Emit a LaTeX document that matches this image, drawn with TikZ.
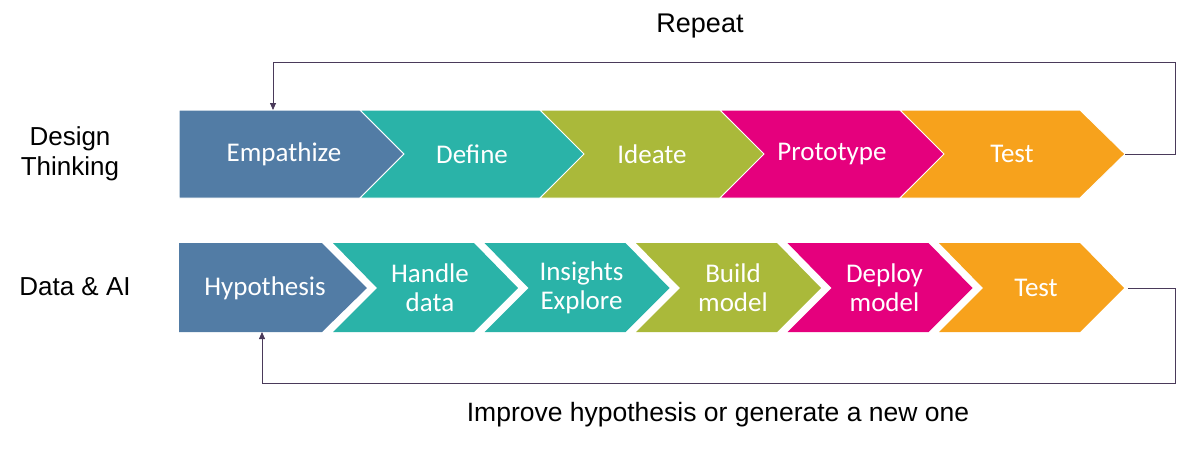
\documentclass[tikz,border=0pt]{standalone}
\usepackage{fontspec}
\setmainfont{Carlito}
\newfontfamily\arialf{Liberation Sans}
\usetikzlibrary{arrows.meta}
\definecolor{cblue}{HTML}{527CA5}
\definecolor{cteal}{HTML}{2AB3A8}
\definecolor{cgreen}{HTML}{AAB93A}
\definecolor{cmag}{HTML}{E5007D}
\definecolor{corange}{HTML}{F7A21C}
\definecolor{cline}{HTML}{4A3A5A}
\begin{document}
\begin{tikzpicture}[x=1pt,y=-1pt,
  lbl/.style={text=white,font=\fontsize{27}{29}\selectfont,align=center},
  side/.style={font=\arialf\fontsize{26}{30}\selectfont,align=center},
  conn/.style={draw=cline,line width=0.8pt,-{Triangle[length=7pt,width=6pt]}}]
\useasboundingbox (0,0) rectangle (1200,448);
% top row
\newcommand{\topchev}[4]{% start, color, name, text
  \fill[#2,draw=white,line width=1pt] (#1,110) -- ({#1+180},110) -- ({#1+225},154) -- ({#1+180},198) -- (#1,198) -- ({#1+44},154) -- cycle;
  \node[lbl] (#3) at ({#1+112},154) {#4};}
\fill[cblue,draw=white,line width=1pt] (179,110) -- (360,110) -- (404,154) -- (360,198) -- (179,198) -- cycle;
\node[lbl] (emp) at (284,154) {Empathize};
\topchev{360}{cteal}{def}{Define}
\topchev{540}{cgreen}{ide}{Ideate}
\topchev{720}{cmag}{pro}{Prototype}
\topchev{900}{corange}{tst}{Test}
% bottom row
\newcommand{\botchev}[4]{%
  \fill[#2] (#1,243) -- ({#1+141},243) -- ({#1+185},288) -- ({#1+141},332) -- (#1,332) -- ({#1+44},288) -- cycle;
  \node[lbl] (#3) at ({#1+97},288) {#4};}
\fill[cblue] (179,243) -- (322,243) -- (367,288) -- (322,332) -- (179,332) -- cycle;
\node[lbl] (hyp) at (265,288) {Hypothesis};
\botchev{333}{cteal}{han}{Handle\\data}
\botchev{484.5}{cteal}{ins}{Insights\\Explore}
\botchev{636}{cgreen}{bui}{Build\\model}
\botchev{787.5}{cmag}{dep}{Deploy\\model}
\botchev{939}{corange}{tsb}{Test}
% labels
\node[side] (dt) at (70,154) {Design\\Thinking};
\node[side] (dai) at (75,287) {Data \& AI};
\node[side,font=\arialf\fontsize{27}{30}\selectfont] (rep) at (700,26) {Repeat};
\node[side,font=\arialf\fontsize{26.5}{30}\selectfont] (imp) at (718,415) {Improve hypothesis or generate a new one};
% connectors
\coordinate (t1) at (1125,154);
\coordinate (e1) at (273,110);
\coordinate (b1) at (1128,288);
\coordinate (h1) at (262,332);
\draw[conn] (t1) -- (1175,154) -- (1175,62) -- (273,62) -- (e1);
\draw[conn] (b1) -- (1175,288) -- (1175,383) -- (262,383) -- (h1);
\end{tikzpicture}
\end{document}
